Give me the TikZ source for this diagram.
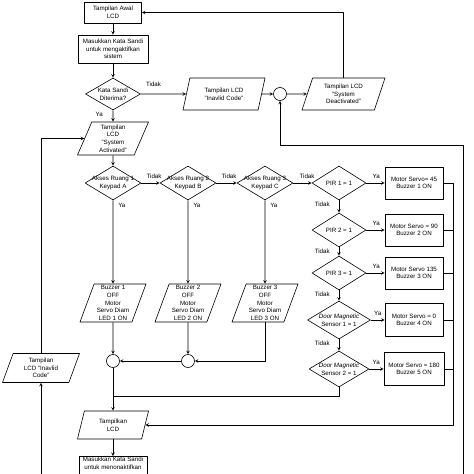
\documentclass[tikz,border=0pt]{standalone}
\usepackage{fontspec}
\setmainfont{Liberation Sans}
\usetikzlibrary{shapes.geometric,positioning}
\begin{document}
\begin{tikzpicture}[x=1pt,y=-1pt,line join=round,line width=0.6pt,>=stealth,
	font=\fontsize{6.2}{7.6}\selectfont,
	box/.style={draw,rectangle,align=center,inner sep=1pt},
	para/.style={draw,trapezium,trapezium left angle=64,trapezium right angle=116,
		trapezium stretches body,align=center,inner sep=1pt},
	buzz/.style={para,trapezium left angle=69,trapezium right angle=111},
	dec/.style={draw,diamond,inner sep=0pt},
	txt/.style={align=center,inner sep=0pt},
	lbl/.style={inner sep=1pt},
	junc/.style={draw,circle,minimum size=13pt,inner sep=0pt}]
	\useasboundingbox (0,0) rectangle (474,474);
	\clip (0,0) rectangle (474,474);
	\path (463,480) coordinate (R0)
	(463,145) coordinate (R1)
	(41,480) coordinate (L0)
	(453,183) coordinate (C1)
	(339,396) coordinate (D1)
	(113,396) coordinate (D2);
	% jalur utama kiri
	\node[box,minimum width=57pt,minimum height=21pt] (awal) at (113,12.5) {Tampilan Awal\\LCD};
	\node[box,minimum width=70pt,minimum height=28pt] (masuk1) at (113,49) {Masukkan Kata Sandi\\untuk mengaktifkan\\sistem};
	\node[dec,minimum width=55pt,minimum height=32pt] (d0) at (113,94) {};
	\node[txt] (d0t) at (d0) {Kata Sandi\\Diterima?};
	\node[para,minimum width=82pt,minimum height=32pt] (inv1) at (224,94) {Tampilan LCD\\"Inavlid Code"};
	\node[junc] (c0) at (280,94) {};
	\node[para,minimum width=83pt,minimum height=32pt] (deact) at (343.5,94) {Tampilan LCD\\"System\\Deactivated"};
	\node[para,minimum width=71pt,minimum height=33pt] (act) at (113,138.5) {Tampilan\\LCD\\"System\\Activated"};
	\node[para,minimum width=77pt,minimum height=29pt] (inv2) at (41,368) {Tampilan\\LCD "Inavlid\\Code"};
	% keypad
	\node[dec,minimum width=56pt,minimum height=34pt] (k1) at (113,183) {};
	\node[txt] (k1t) at (k1) {Akses Ruang 1\\Keypad A};
	\node[dec,minimum width=56pt,minimum height=34pt] (k2) at (188,183) {};
	\node[txt] (k2t) at (k2) {Akses Ruang 2\\Keypad B};
	\node[dec,minimum width=56pt,minimum height=34pt] (k3) at (265,183) {};
	\node[txt] (k3t) at (k3) {Akses Ruang 3\\Keypad C};
	\node[buzz,minimum width=66pt,minimum height=38pt] (b1) at (113,303) {Buzzer 1\\OFF\\Motor\\Servo Diam\\LED 1 ON};
	\node[buzz,minimum width=66pt,minimum height=38pt] (b2) at (188,303) {Buzzer 2\\OFF\\Motor\\Servo Diam\\LED 2 ON};
	\node[buzz,minimum width=66pt,minimum height=38pt] (b3) at (265,303) {Buzzer 3\\OFF\\Motor\\Servo Diam\\LED 3 ON};
	\node[junc] (j1) at (113,361) {};
	\node[junc] (j2) at (188,361) {};
	\node[para,minimum width=71pt,minimum height=28pt] (tamp) at (113,425) {Tampilkan\\LCD};
	\node[box,anchor=north,minimum width=68pt,text depth=9pt] (masuk2) at (113,456) {Masukkan Kata Sandi\\untuk menonaktifkan};
	% sensor
	\node[dec,minimum width=54pt,minimum height=34pt] (p1) at (339,183) {};
	\node[txt] (p1t) at (p1) {PIR 1 = 1};
	\node[dec,minimum width=54pt,minimum height=34pt] (p2) at (339,230) {};
	\node[txt] (p2t) at (p2) {PIR 2 = 1};
	\node[dec,minimum width=54pt,minimum height=34pt] (p3) at (339,273) {};
	\node[txt] (p3t) at (p3) {PIR 3 = 1};
	\node[dec,minimum width=63pt,minimum height=38pt] (dm1) at (339,320) {};
	\node[txt] (dm1t) at (dm1) {\textit{Door Magnetic}\\Sensor 1 = 1};
	\node[dec,minimum width=60pt,minimum height=36pt] (dm2) at (339,369) {};
	\node[txt] (dm2t) at (dm2) {\textit{Door Magnetic}\\Sensor 2 = 1};
	\node[box,minimum width=58pt,minimum height=32pt] (m1) at (414,183) {Motor Servo= 45\\Buzzer 1 ON};
	\node[box,minimum width=58pt,minimum height=32pt] (m2) at (414,230) {Motor Servo = 90\\Buzzer 2 ON};
	\node[box,minimum width=58pt,minimum height=32pt] (m3) at (414,273) {Motor Servo 135\\Buzzer 3 ON};
	\node[box,minimum width=58pt,minimum height=33pt] (m4) at (414,320) {Motor Servo = 0\\Buzzer 4 ON};
	\node[box,minimum width=60pt,minimum height=33pt] (m5) at (414,369) {Motor Servo = 180\\Buzzer 5 ON};
	% garis
	\draw[->] (awal) -- (masuk1);
	\draw[->] (masuk1) -- (d0);
	\draw[->] (d0.east) node[lbl,above right=6pt and 4pt]{Tidak} -- (inv1);
	\draw[->] (inv1) -- (c0);
	\draw[->] (c0) -- (deact);
	\draw[->] (deact.north) |- (awal.east);
	\draw[->] (R0) -- (R1) -| (c0);
	\draw[->] (d0.south) node[lbl,below left=1pt and 9pt]{Ya} -- (act);
	\draw[->] (L0) -- (inv2);
	\draw[->] (inv2) |- (act);
	\draw[->] (act) -- (k1);
	\draw[->] (k1.east) node[lbl,above right=3pt and 4pt]{Tidak} -- (k2);
	\draw[->] (k2.east) node[lbl,above right=3pt and 4pt]{Tidak} -- (k3);
	\draw[->] (k3.east) node[lbl,above right=3pt and 5pt]{Tidak} -- (p1);
	\draw[->] (k1.south) node[lbl,below right=2pt and 4pt]{Ya} -- (b1);
	\draw[->] (k2.south) node[lbl,below right=2pt and 4pt]{Ya} -- (b2);
	\draw[->] (k3.south) node[lbl,below right=2pt and 4pt]{Ya} -- (b3);
	\draw[->] (b1) -- (j1);
	\draw[->] (b2) -- (j2);
	\draw[->] (j2) -- (j1);
	\draw[->] (b3) |- (j2);
	\draw[->] (j1) -- (tamp);
	\draw[->] (tamp) -- (masuk2);
	\draw[->] (p1.south) node[lbl,below left=0pt and 8pt]{Tidak} -- (p2);
	\draw[->] (p2.south) node[lbl,below left=0pt and 8pt]{Tidak} -- (p3);
	\draw[->] (p3.south) node[lbl,below left=0pt and 8pt]{Tidak} -- (dm1);
	\draw[->] (dm1.south) node[lbl,below left=0pt and 8pt]{Tidak} -- (dm2);
	\draw[->] (p1.east) node[lbl,above right=3pt and 5pt]{Ya} -- (m1);
	\draw[->] (p2.east) node[lbl,above right=3pt and 5pt]{Ya} -- (m2);
	\draw[->] (p3.east) node[lbl,above right=3pt and 5pt]{Ya} -- (m3);
	\draw[->] (dm1.east) node[lbl,above right=3pt and 2pt]{Ya} -- (m4);
	\draw[->] (dm2.east) node[lbl,above right=3pt and 2pt]{Ya} -- (m5);
	\draw[->] (m1.east) -- (C1) |- (tamp);
	\foreach \m in {m2,m3,m4,m5}
	\draw (\m.east) -- (\m.east -| C1);
	\draw (dm2.south) -- (D1) -- (D2);
\end{tikzpicture}
\end{document}
